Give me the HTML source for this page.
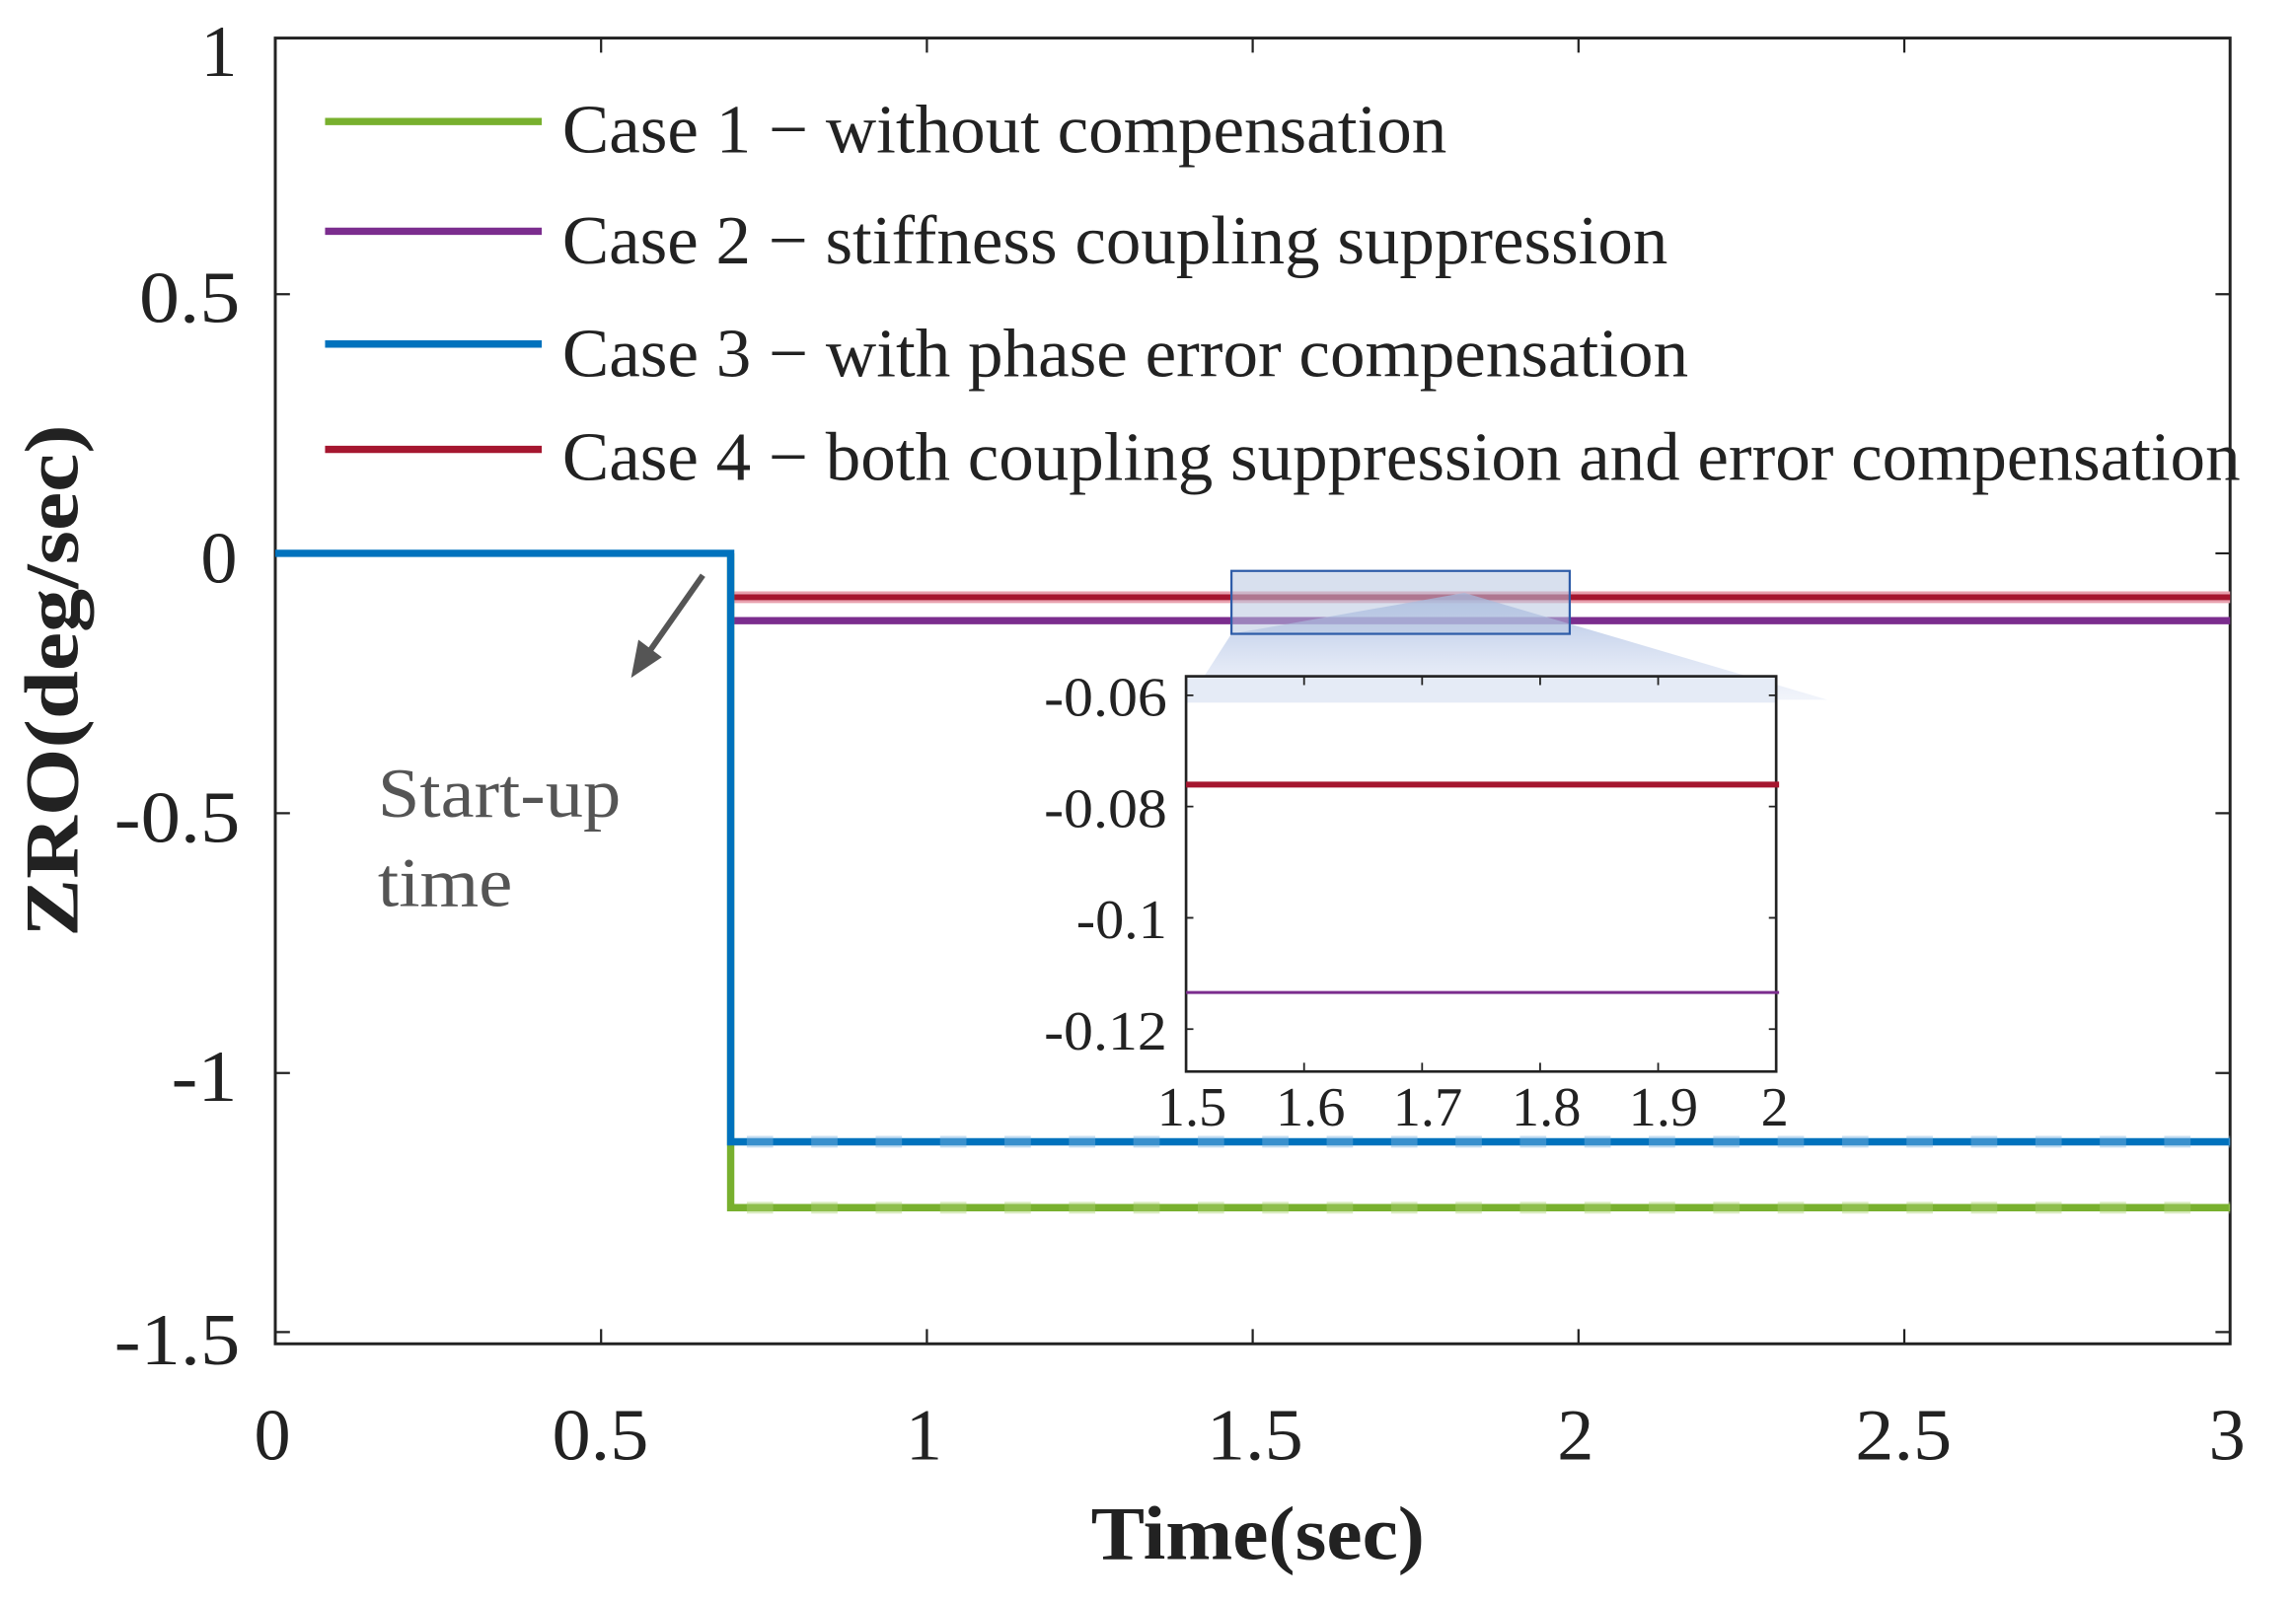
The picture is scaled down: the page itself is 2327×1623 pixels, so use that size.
<!DOCTYPE html>
<html><head><meta charset="utf-8"><style>
html,body{margin:0;padding:0;background:#fff;}
svg{display:block;}
text{font-family:"Liberation Serif",serif;fill:#222;}
</style></head><body>
<svg width="2327" height="1623" viewBox="0 0 1568 1093.7" preserveAspectRatio="none" xmlns="http://www.w3.org/2000/svg">
<defs>
<linearGradient id="g" x1="0" y1="0" x2="0" y2="1">
<stop offset="0" stop-color="#8fa8d8" stop-opacity="0.75"/>
<stop offset="1" stop-color="#c8d4ee" stop-opacity="0.25"/>
</linearGradient>
</defs>
<rect x="188" y="26" width="1335" height="892" fill="none" stroke="#222" stroke-width="2"/>
<g stroke="#222" stroke-width="1.5">
<path d="M410.5 918v-10M633 918v-10M855.5 918v-10M1078 918v-10M1300.5 918v-10M410.5 26v10M633 26v10M855.5 26v10M1078 26v10M1300.5 26v10"/>
<path d="M188 201h10M188 378h10M188 555.5h10M188 733h10M188 910h10M1523 201h-10M1523 378h-10M1523 555.5h-10M1523 733h-10M1523 910h-10"/>
</g>
<g font-size="50" text-anchor="end">
<text x="162" y="52">1</text>
<text x="164" y="220" textLength="69" lengthAdjust="spacingAndGlyphs">0.5</text>
<text x="162" y="398">0</text>
<text x="164" y="575" textLength="86" lengthAdjust="spacingAndGlyphs">-0.5</text>
<text x="162" y="752" textLength="45" lengthAdjust="spacingAndGlyphs">-1</text>
<text x="164" y="932" textLength="86" lengthAdjust="spacingAndGlyphs">-1.5</text>
</g>
<g font-size="50" text-anchor="middle">
<text x="186" y="997">0</text>
<text x="410" y="997" textLength="66" lengthAdjust="spacingAndGlyphs">0.5</text>
<text x="631" y="997">1</text>
<text x="857" y="997" textLength="66" lengthAdjust="spacingAndGlyphs">1.5</text>
<text x="1076" y="997">2</text>
<text x="1300" y="997" textLength="66" lengthAdjust="spacingAndGlyphs">2.5</text>
<text x="1521" y="997">3</text>
</g>
<text x="745" y="1065" font-size="52" font-weight="bold" textLength="228" lengthAdjust="spacingAndGlyphs">Time(sec)</text>
<text transform="translate(53,465) rotate(-90)" font-size="52" font-weight="bold" text-anchor="middle" textLength="350" lengthAdjust="spacingAndGlyphs">ZRO(deg/sec)</text>

<path d="M500 408H1523" stroke="#e8a0ae" stroke-width="8" fill="none"/>
<path d="M500 408H1523" stroke="#a5162f" stroke-width="4" fill="none"/>
<path d="M500 424H1523" stroke="#7b2d8e" stroke-width="5" fill="none"/>
<path d="M499 378V825H1523" stroke="#78b02e" stroke-width="5" fill="none"/>
<path d="M510 825H1523" stroke="#a8d070" stroke-width="8" stroke-dasharray="18 26" fill="none" opacity="0.45"/>
<path d="M188 378H499V780H1523" stroke="#0072bd" stroke-width="5" fill="none"/>
<path d="M510 780H1523" stroke="#7fb6e0" stroke-width="8" stroke-dasharray="18 26" fill="none" opacity="0.45"/>

<polygon points="841,433 1000,405 1248,478 812,478" fill="url(#g)"/>
<rect x="841" y="390" width="231" height="43" fill="#b8c6e0" fill-opacity="0.55" stroke="#2e5ca8" stroke-width="1.5"/>

<rect x="810" y="462" width="403" height="270" fill="#fff"/>
<rect x="810" y="462" width="403" height="18" fill="#dfe6f4" opacity="0.8"/>
<rect x="810" y="462" width="403" height="270" fill="none" stroke="#222" stroke-width="1.8"/>
<g stroke="#222" stroke-width="1.2">
<path d="M890.6 732v-6M971.2 732v-6M1051.8 732v-6M1132.4 732v-6M890.6 462v6M971.2 462v6M1051.8 462v6M1132.4 462v6"/>
<path d="M810 475h5M810 551h5M810 627h5M810 703h5M1213 475h-5M1213 551h-5M1213 627h-5M1213 703h-5"/>
</g>
<path d="M810 536H1215" stroke="#a5162f" stroke-width="4" fill="none"/>
<path d="M810 678H1215" stroke="#7b2d8e" stroke-width="2" fill="none"/>
<g font-size="38" text-anchor="end">
<text x="797" y="489" textLength="84" lengthAdjust="spacingAndGlyphs">-0.06</text>
<text x="797" y="565" textLength="84" lengthAdjust="spacingAndGlyphs">-0.08</text>
<text x="797" y="641" textLength="62" lengthAdjust="spacingAndGlyphs">-0.1</text>
<text x="797" y="717" textLength="84" lengthAdjust="spacingAndGlyphs">-0.12</text>
</g>
<g font-size="38" text-anchor="middle">
<text x="814" y="769">1.5</text>
<text x="895" y="769">1.6</text>
<text x="975" y="769">1.7</text>
<text x="1056" y="769">1.8</text>
<text x="1136" y="769">1.9</text>
<text x="1212" y="769">2</text>
</g>

<path d="M480 393L440 450" stroke="#555" stroke-width="4" fill="none"/>
<polygon points="431,463 436,437 452,449" fill="#555"/>
<text x="258" y="558" font-size="48" style="fill:#555" textLength="166" lengthAdjust="spacingAndGlyphs">Start-up</text>
<text x="258" y="619" font-size="48" style="fill:#555" textLength="92" lengthAdjust="spacingAndGlyphs">time</text>

<path d="M222 83H370" stroke="#78b02e" stroke-width="5"/>
<path d="M222 158H370" stroke="#7b2d8e" stroke-width="5"/>
<path d="M222 235H370" stroke="#0072bd" stroke-width="5"/>
<path d="M222 307H370" stroke="#a5162f" stroke-width="5"/>
<g font-size="47">
<text x="384" y="104" textLength="604" lengthAdjust="spacingAndGlyphs">Case 1 − without compensation</text>
<text x="384" y="180" textLength="755" lengthAdjust="spacingAndGlyphs">Case 2 − stiffness coupling suppression</text>
<text x="384" y="257" textLength="769" lengthAdjust="spacingAndGlyphs">Case 3 − with phase error compensation</text>
<text x="384" y="328" textLength="1146" lengthAdjust="spacingAndGlyphs">Case 4 − both coupling suppression and error compensation</text>
</g>
</svg>
</body></html>
